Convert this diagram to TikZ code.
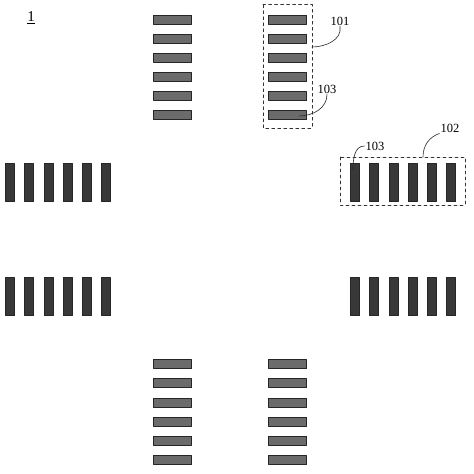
\documentclass[tikz,border=0pt]{standalone}
\usepackage{fontspec}
\setmainfont{Liberation Serif}
\begin{document}
\begin{tikzpicture}[x=1pt, y=-1pt, font=\fontsize{12.5}{14}\selectfont, line join=round, line cap=round,
	hbar/.style={draw=black!85, fill=black!58, line width=0.8pt, minimum width=38pt, minimum height=9pt, inner sep=0pt},
	vbar/.style={draw=black!85, fill=black!78, line width=0.8pt, minimum width=9pt, minimum height=38pt, inner sep=0pt},
	groupbox/.style={draw=black!80, dashed, line width=0.6pt},
	callout/.style={draw=black!85, line width=0.6pt}]
	\useasboundingbox (0,0) rectangle (474,474);
	% crossing number
	\node[inner sep=0pt, font=\fontsize{15}{17}\selectfont] (num) at (31,18) {\underline{1}};
	% horizontal bars, top and bottom
	\foreach \i in {0,...,5}{
		\node[hbar] (tl\i) at (172.5,{19.7+19.1*\i}) {};
		\node[hbar] (tr\i) at (287.5,{19.7+19.1*\i}) {};
		\node[hbar] (bl\i) at (172.5,{364+19.2*\i}) {};
		\node[hbar] (br\i) at (287.5,{364+19.2*\i}) {};
	}
	% vertical bars, left and right
	\foreach \i in {0,...,5}{
		\node[vbar] (lu\i) at ({10+19.2*\i},182.5) {};
		\node[vbar] (ll\i) at ({10+19.2*\i},296.5) {};
		\node[vbar] (ru\i) at ({355+19.2*\i},182.5) {};
		\node[vbar] (rl\i) at ({355+19.2*\i},296.5) {};
	}
	% dashed groups
	\draw[groupbox] (263,4.7) rectangle (312,128);
	\draw[groupbox] (340,157) rectangle (465,205);
	\coordinate (b101) at (312,47);
	\coordinate (b102) at (423,157);
	\coordinate (in103a) at (299,116);
	\coordinate (in103b) at (353,170);
	% labels
	\node[inner sep=1pt] (l101) at (340,21) {101};
	\node[inner sep=1pt] (l103a) at (327,89) {103};
	\node[inner sep=1pt] (l103b) at (375,146) {103};
	\node[inner sep=1pt] (l102) at (450,128) {102};
	\draw[callout] (b101) to[out=0, in=-80] (l101.south);
	\draw[callout] (l103a.south) to[out=-90, in=0] (in103a);
	\draw[callout] (l103b.west) to[out=180, in=90] (in103b);
	\draw[callout] (b102) to[out=90, in=200] (l102.south west);
\end{tikzpicture}
\end{document}
